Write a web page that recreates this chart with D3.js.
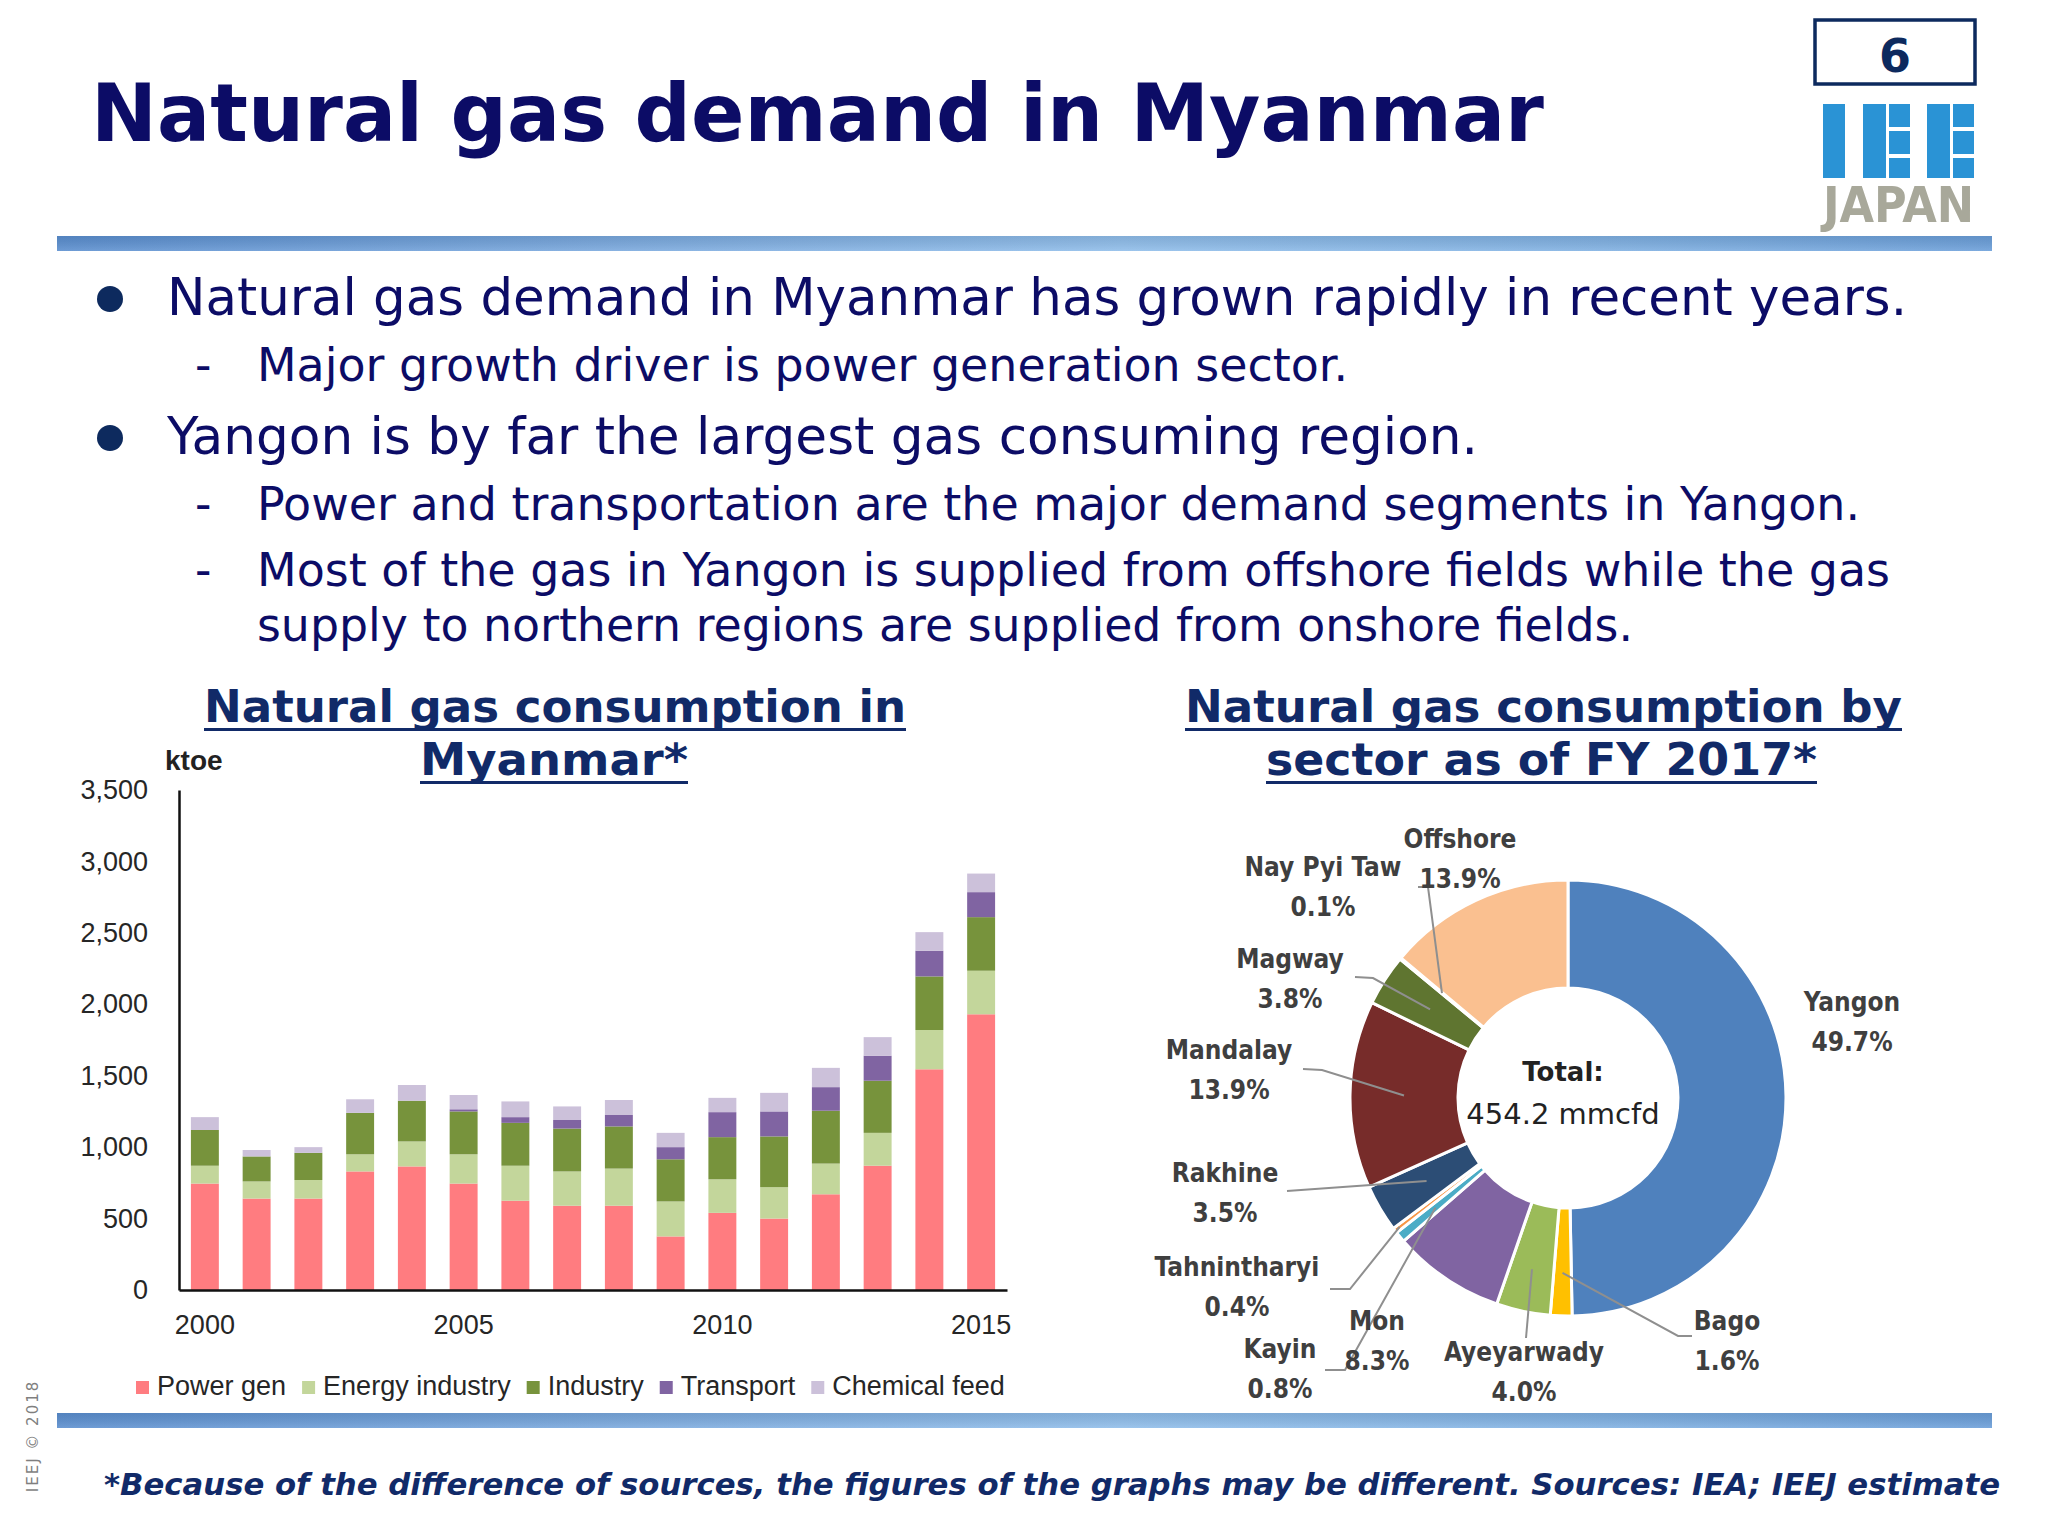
<!DOCTYPE html>
<html><head><meta charset="utf-8">
<script src="https://cdn.jsdelivr.net/npm/d3@7"></script>
<style>
html,body{margin:0;padding:0;background:#fff;}
svg{display:block;}
</style></head>
<body>
<svg id="c" width="2048" height="1536"></svg>
<script>
// ---------------- DATA ----------------
const years = [2000,2001,2002,2003,2004,2005,2006,2007,2008,2009,2010,2011,2012,2013,2014,2015];
const sectors = ["Power gen","Energy industry","Industry","Transport","Chemical feed"];
const powerGen       = [745,640,640,830,865,745,625,590,590,375,540,500,670,870,1545,1930];
const energyIndustry = [125,120,130,120,175,205,245,240,260,245,235,220,215,230,275,305];
const industry       = [250,175,190,290,285,300,300,300,295,295,295,355,370,365,375,375];
const transport      = [  0,  0,  0,  0,  0, 15, 40, 60, 80, 85,175,175,165,175,180,175];
const chemicalFeed   = [ 90, 45, 40, 95,110,100,110, 95,105,100,100,130,135,130,130,130];
const yTicks = [0,500,1000,1500,2000,2500,3000,3500];
const xTickYears = [2000,2005,2010,2015];

const regions = ["Yangon","Bago","Ayeyarwady","Mon","Kayin","Tahnintharyi","Rakhine","Mandalay","Magway","Nay Pyi Taw","Offshore"];
const regionShares = [49.7,1.6,4.0,8.3,0.8,0.4,3.5,13.9,3.8,0.1,13.9];
const totalValue = "454.2 mmcfd";

// ---------------- STYLE / LAYOUT ----------------
const sectorColors = ["#ff7c80","#c3d69b","#77933c","#8064a2","#ccc1da"];
const regionColors = ["#4f81bd","#ffc000","#9bbb59","#8064a2","#4bacc6","#f79646","#2c4d75","#772c2a","#5f7530","#4d3b62","#fac090"];
const NAVY = "#0c0c66", NAVY2 = "#112a68";

const svg = d3.select("#c");
function fit(sel, w){ sel.attr("textLength", w).attr("lengthAdjust","spacingAndGlyphs"); }

// band gradient
const defs = svg.append("defs");
const lg = defs.append("linearGradient").attr("id","band").attr("x1",0).attr("x2",1).attr("y1",0).attr("y2",0);
[[0,"#5a8ecf"],[0.3,"#7aa9de"],[0.55,"#8fbdea"],[0.8,"#7fb0e2"],[1,"#6a9ed9"]].forEach(s=>lg.append("stop").attr("offset",s[0]).attr("stop-color",s[1]));
const lgv = defs.append("linearGradient").attr("id","bandv").attr("x1",0).attr("x2",0).attr("y1",0).attr("y2",1);
lgv.append("stop").attr("offset",0).attr("stop-color","#000").attr("stop-opacity",0.08);
lgv.append("stop").attr("offset",1).attr("stop-color","#fff").attr("stop-opacity",0.12);
[[236,15],[1413,15]].forEach(b=>{
  svg.append("rect").attr("x",57).attr("y",b[0]).attr("width",1935).attr("height",b[1]).attr("fill","url(#band)");
  svg.append("rect").attr("x",57).attr("y",b[0]).attr("width",1935).attr("height",b[1]).attr("fill","url(#bandv)");
});

// title
svg.append("text").attr("x",91).attr("y",141)
  .attr("font-family","DejaVu Sans").attr("font-weight","bold").attr("font-size",80)
  .attr("fill",NAVY).text("Natural gas demand in Myanmar").call(fit,1453);

// page number box
svg.append("rect").attr("x",1815).attr("y",20).attr("width",160).attr("height",64)
  .attr("fill","#fff").attr("stroke","#0d2a5e").attr("stroke-width",3.5);
svg.append("text").attr("x",1895).attr("y",72).attr("text-anchor","middle")
  .attr("font-family","DejaVu Sans").attr("font-weight","bold").attr("font-size",46)
  .attr("fill","#0d2a5e").text("6");

// IEE logo
const logoBlue = "#2a93d5";
const logo = svg.append("g");
logo.append("rect").attr("x",1823).attr("y",104).attr("width",22).attr("height",74).attr("fill",logoBlue);
[1863,1927].forEach(x0=>{
  logo.append("rect").attr("x",x0).attr("y",104).attr("width",23).attr("height",74).attr("fill",logoBlue);
  logo.append("rect").attr("x",x0+26).attr("y",104).attr("width",21).attr("height",23).attr("fill",logoBlue);
  logo.append("rect").attr("x",x0+26).attr("y",131).attr("width",21).attr("height",23).attr("fill",logoBlue);
  logo.append("rect").attr("x",x0+26).attr("y",158).attr("width",21).attr("height",20).attr("fill",logoBlue);
});
svg.append("text").attr("x",1823).attr("y",222)
  .attr("font-family","DejaVu Sans Condensed").attr("font-weight","bold").attr("font-size",50)
  .attr("fill","#a8a89a").text("JAPAN").call(fit,151);

// bullets
const bulletTexts = [
  "Natural gas demand in Myanmar has grown rapidly in recent years.",
  "Major growth driver is power generation sector.",
  "Yangon is by far the largest gas consuming region.",
  "Power and transportation are the major demand segments in Yangon.",
  "Most of the gas in Yangon is supplied from offshore fields while the gas",
  "supply to northern regions are supplied from onshore fields."
];
const bulletLevels = [1,2,1,2,2,0];
const bulletY = [315,381,454,520,586,641];
const bulletW = [1740,1091,1311,1603,1633,1376];
bulletTexts.forEach((t,i)=>{
  const lvl = bulletLevels[i];
  const fs = lvl===1 ? 51 : 45.5;
  const x = lvl===1 ? 167 : 257;
  if(lvl===1){
    svg.append("circle").attr("cx",110).attr("cy",bulletY[i]-16).attr("r",13).attr("fill","#0d2a5e");
  } else if(lvl===2){
    svg.append("text").attr("x",195).attr("y",bulletY[i]).attr("font-family","DejaVu Sans")
      .attr("font-size",fs).attr("fill",NAVY).text("-");
  }
  svg.append("text").attr("x",x).attr("y",bulletY[i]).attr("font-family","DejaVu Sans")
    .attr("font-size",fs).attr("fill",NAVY).text(t).call(fit,bulletW[i]);
});

// chart titles (underlined)
const chartTitles = [
  ["Natural gas consumption in",204,722,702],
  ["Myanmar*",420,775,268],
  ["Natural gas consumption by",1185,722,717],
  ["sector as of FY 2017*",1266,775,551]
];
chartTitles.forEach(ct=>{
  svg.append("text").attr("x",ct[1]).attr("y",ct[2]).attr("font-family","DejaVu Sans")
    .attr("font-weight","bold").attr("font-size",45).attr("fill",NAVY2).text(ct[0]).call(fit,ct[3]);
  svg.append("rect").attr("x",ct[1]).attr("y",ct[2]+6).attr("width",ct[3]).attr("height",3).attr("fill",NAVY2);
});

// ---------------- BAR CHART ----------------
const rows = years.map((yr,i)=>({year:yr,"Power gen":powerGen[i],"Energy industry":energyIndustry[i],
  "Industry":industry[i],"Transport":transport[i],"Chemical feed":chemicalFeed[i]}));
const stack = d3.stack().keys(sectors)(rows);
const x = d3.scaleBand().domain(years).range([179,1007]).paddingInner(0.46).paddingOuter(0.23);
const y = d3.scaleLinear().domain([0,3500]).range([1290,790]);
const color = d3.scaleOrdinal().domain(sectors).range(sectorColors);

const bars = svg.append("g");
bars.selectAll("g").data(stack).join("g").attr("fill",d=>color(d.key))
  .selectAll("rect").data(d=>d).join("rect")
  .attr("x",d=>x(d.data.year)).attr("width",x.bandwidth())
  .attr("y",d=>y(d[1])).attr("height",d=>y(d[0])-y(d[1]));

const axisFont = "Liberation Sans, Arial, sans-serif";
const gy = svg.append("g").attr("transform","translate(179,0)")
  .call(d3.axisLeft(y).tickValues(yTicks).tickSize(0).tickSizeOuter(0).tickPadding(31).tickFormat(d3.format(",")));
gy.select(".domain").attr("stroke","#111").attr("stroke-width",2.5);
gy.selectAll("text").attr("font-family",axisFont).attr("font-size",27).attr("fill","#262626");

const gx = svg.append("g").attr("transform","translate(0,1290)")
  .call(d3.axisBottom(x).tickValues(xTickYears).tickSize(0).tickSizeOuter(0));
gx.select(".domain").attr("stroke","#111").attr("stroke-width",2.5);
gx.selectAll("text").attr("font-family",axisFont).attr("font-size",27).attr("fill","#262626")
  .attr("dy",null).attr("y",44);

svg.append("text").attr("x",165).attr("y",770).attr("font-family",axisFont).attr("font-weight","bold")
  .attr("font-size",28).attr("fill","#222").text("ktoe");

// legend
let lx = 136;
sectors.forEach((s,i)=>{
  svg.append("rect").attr("x",lx).attr("y",1381).attr("width",13).attr("height",13).attr("fill",sectorColors[i]);
  const t = svg.append("text").attr("x",lx+21).attr("y",1395).attr("font-family",axisFont)
    .attr("font-size",27).attr("fill","#262626").text(s);
  lx += 21 + t.node().getComputedTextLength() + 16;
});

// ---------------- DONUT ----------------
const cx = 1568, cy = 1098, R = 218, r0 = 110;
const pieData = regions.map((n,i)=>({name:n, v:regionShares[i], color:regionColors[i]}));
const arcs = d3.pie().sort(null).value(d=>d.v).startAngle(0).endAngle(2*Math.PI)(pieData);
const arc = d3.arc().innerRadius(r0).outerRadius(R);
const dg = svg.append("g").attr("transform",`translate(${cx},${cy})`);
dg.selectAll("path").data(arcs).join("path").attr("d",arc).attr("fill",d=>d.data.color)
  .attr("stroke","#fff").attr("stroke-width",3).attr("stroke-linejoin","round");

// leader lines
const leaderStart = {
  "Nay Pyi Taw":[[1418,887],[1428,887]],
  "Magway":[[1355,977],[1373,978]],
  "Mandalay":[[1303,1069],[1322,1070]],
  "Rakhine":[[1287,1191]],
  "Tahnintharyi":[[1330,1289],[1350,1289]],
  "Kayin":[[1325,1370],[1345,1370]],
  "Ayeyarwady":[[1526,1338]],
  "Bago":[[1692,1336],[1678,1336]]
};
const leaderRadius = {"Nay Pyi Taw":164,"Magway":164,"Mandalay":164,"Rakhine":164,"Tahnintharyi":212,"Kayin":172,"Ayeyarwady":175,"Bago":175};
arcs.forEach(a=>{
  const st = leaderStart[a.data.name];
  if(!st) return;
  const m = (a.startAngle+a.endAngle)/2, rr = leaderRadius[a.data.name];
  const end = [cx + rr*Math.sin(m), cy - rr*Math.cos(m)];
  svg.append("path").attr("d", d3.line()(st.concat([end])))
    .attr("fill","none").attr("stroke","#8f8f8f").attr("stroke-width",2);
});

// labels
const labelPos = {
  "Offshore":[1460,848],"Nay Pyi Taw":[1323,876],"Magway":[1290,968],"Mandalay":[1229,1059],
  "Yangon":[1852,1011],"Rakhine":[1225,1182],"Tahnintharyi":[1237,1276],"Mon":[1377,1330],
  "Kayin":[1280,1358],"Ayeyarwady":[1524,1361],"Bago":[1727,1330]
};
const lblFont = "DejaVu Sans Condensed";
pieData.forEach(d=>{
  const p = labelPos[d.name];
  svg.append("text").attr("x",p[0]).attr("y",p[1]).attr("text-anchor","middle").attr("font-family",lblFont)
    .attr("font-weight","bold").attr("font-size",26).attr("fill","#3f3f3f").text(d.name);
  svg.append("text").attr("x",p[0]).attr("y",p[1]+40).attr("text-anchor","middle").attr("font-family",lblFont)
    .attr("font-weight","bold").attr("font-size",26).attr("fill","#3f3f3f").text(d3.format(".1f")(d.v)+"%");
});
svg.append("text").attr("x",1563).attr("y",1081).attr("text-anchor","middle").attr("font-family","DejaVu Sans")
  .attr("font-weight","bold").attr("font-size",26).attr("fill","#222").text("Total:");
svg.append("text").attr("x",1563).attr("y",1124).attr("text-anchor","middle").attr("font-family","DejaVu Sans")
  .attr("font-size",29).attr("fill","#222").text(totalValue);

// ---------------- FOOTER ----------------
svg.append("text").attr("x",104).attr("y",1495).attr("font-family","DejaVu Sans Condensed")
  .attr("font-weight","bold").attr("font-style","italic").attr("font-size",31).attr("fill",NAVY2)
  .text("*Because of the difference of sources, the figures of the graphs may be different. Sources: IEA; IEEJ estimate")
  .call(fit,1896);
svg.append("text").attr("transform","translate(38,1436) rotate(-90)").attr("text-anchor","middle")
  .attr("font-family","DejaVu Sans").attr("font-size",15).attr("letter-spacing",2).attr("fill","#7f7f7f")
  .text("IEEJ © 2018");
</script>
</body></html>
